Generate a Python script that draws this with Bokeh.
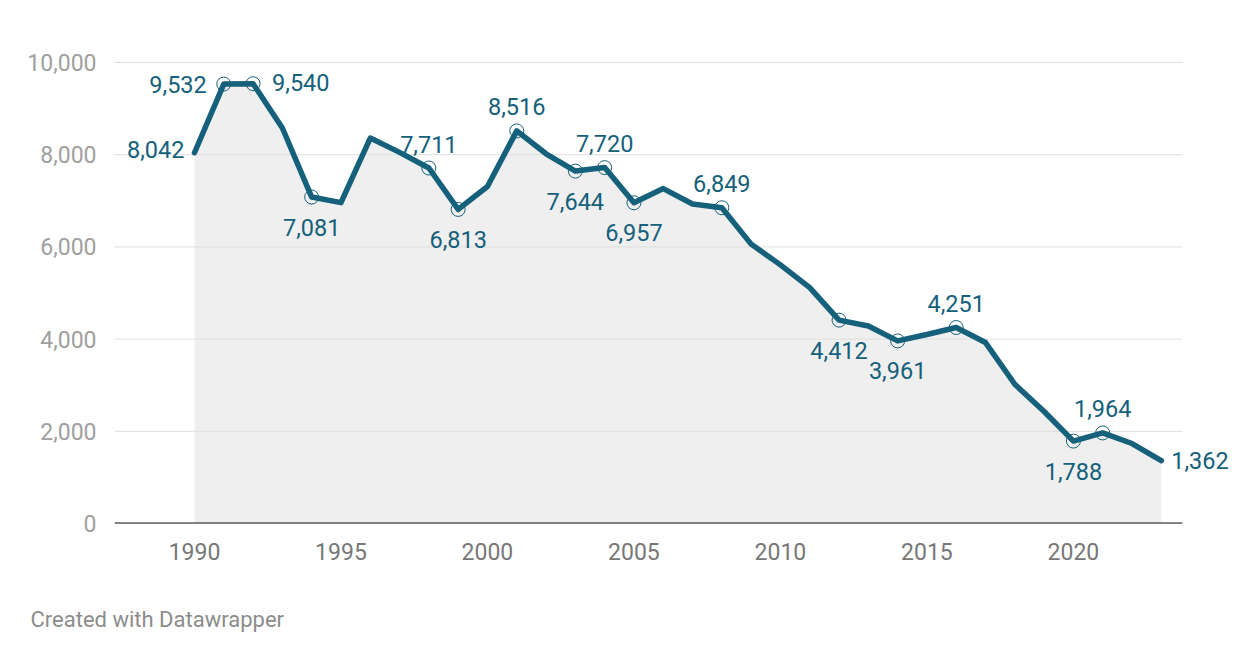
from bokeh.plotting import figure
from bokeh.models import ColumnDataSource, FixedTicker, NumeralTickFormatter, Title, LabelSet
from bokeh.core.properties import value
from bokeh.embed import file_html
from bokeh.resources import INLINE

years = list(range(1990, 2024))
values = [8042, 9532, 9540, 8580, 7081, 6960, 8360, 8050, 7711, 6813,
          7310, 8516, 8020, 7644, 7720, 6957, 7265, 6930, 6849, 6060,
          5610, 5115, 4412, 4285, 3961, 4100, 4251, 3925, 3020, 2430,
          1788, 1964, 1735, 1362]

label_years = [1990, 1991, 1992, 1994, 1998, 1999, 2001, 2003, 2004, 2005,
               2008, 2012, 2014, 2016, 2020, 2021, 2023]
label_pos = ["left", "left_far", "right_far", "below", "above", "below", "above", "below", "above", "below",
             "above", "below", "below", "above", "below", "above", "right"]
circle_years = [1991, 1992, 1994, 1998, 1999, 2001, 2003, 2004, 2005,
                2008, 2012, 2014, 2016, 2020, 2021]

y_ticks = [0, 2000, 4000, 6000, 8000, 10000]
x_ticks = [1990, 1995, 2000, 2005, 2010, 2015, 2020]

LINE = "#15607a"
FONT = "Roboto"

# visible axis extent (grid lines / baseline) vs. frame extent (room for labels)
X_LO, X_HI = 1987.27, 2023.72
FRAME_HI = 2025.84

val = dict(zip(years, values))

p = figure(width=1244, height=644, output_backend="svg", toolbar_location=None,
           x_range=(X_LO, FRAME_HI), y_range=(0, 10477),
           min_border_left=114, min_border_right=0, min_border_top=40, min_border_bottom=121)
p.outline_line_color = None
p.background_fill_color = "white"
p.border_fill_color = "white"
p.xgrid.grid_line_color = None
p.ygrid.grid_line_color = None

p.varea(x=years, y1=[0] * len(years), y2=values, fill_color="#efefef")

# horizontal grid lines
p.segment(x0=[X_LO] * len(y_ticks), x1=[X_HI] * len(y_ticks), y0=y_ticks, y1=y_ticks,
          line_color="#dedede", line_width=1)
# baseline
p.segment(x0=[X_LO], x1=[X_HI], y0=[0], y1=[0], line_color="#111111", line_width=2)

p.line(years, values, line_color=LINE, line_width=5.5, line_join="round", line_cap="round")

cx = circle_years
cy = [val[y] for y in circle_years]
p.scatter(cx, cy, size=14, fill_alpha=0, line_color=LINE, line_width=1)

# labels (LabelSet: y_offset positive = up)
styles = {
    "left": ("right", -10, 3),
    "left_far": ("right", -17, 0),
    "right": ("left", 10, 0),
    "right_far": ("left", 19, 1),
    "above": ("center", 0, 24),
    "below": ("center", 0, -30),
}
for pos_name, (align, xo, yo) in styles.items():
    xs = [y for y, ps in zip(label_years, label_pos) if ps == pos_name]
    ys = [val[y] for y in xs]
    txt = [f"{val[y]:,}" for y in xs]
    src = ColumnDataSource(dict(x=xs, y=ys, t=txt))
    ls = LabelSet(x="x", y="y", text="t", source=src, text_font=value(FONT),
                  text_font_size="23.5px", text_color=LINE, text_align=align,
                  text_baseline="middle", x_offset=xo, y_offset=yo)
    p.add_layout(ls)

p.yaxis.ticker = FixedTicker(ticks=y_ticks)
p.yaxis.formatter = NumeralTickFormatter(format="0,0")
p.yaxis.axis_line_color = None
p.yaxis.major_tick_line_color = None
p.yaxis.minor_tick_line_color = None
p.yaxis.major_label_standoff = 12
p.yaxis.major_label_text_font = FONT
p.yaxis.major_label_text_font_size = "23px"
p.yaxis.major_label_text_color = "#a0a0a0"

p.xaxis.ticker = FixedTicker(ticks=x_ticks)
p.xaxis.axis_line_color = None
p.xaxis.major_tick_line_color = None
p.xaxis.minor_tick_line_color = None
p.xaxis.major_label_standoff = 13
p.xaxis.major_label_text_font = FONT
p.xaxis.major_label_text_font_size = "23px"
p.xaxis.major_label_text_color = "#777777"

# blank spacer panel between tick labels and footer
spacer = Title(text=" ", align="left", standoff=15, text_font=FONT, text_font_size="22px")
p.add_layout(spacer, "below")
footer = Title(text="Created with Datawrapper", align="left", offset=-84, standoff=0,
               text_font=FONT, text_font_size="22px", text_color="#8c8c8c",
               text_font_style="normal")
p.add_layout(footer, "below")

open("out.html", "w").write(file_html(p, INLINE))
